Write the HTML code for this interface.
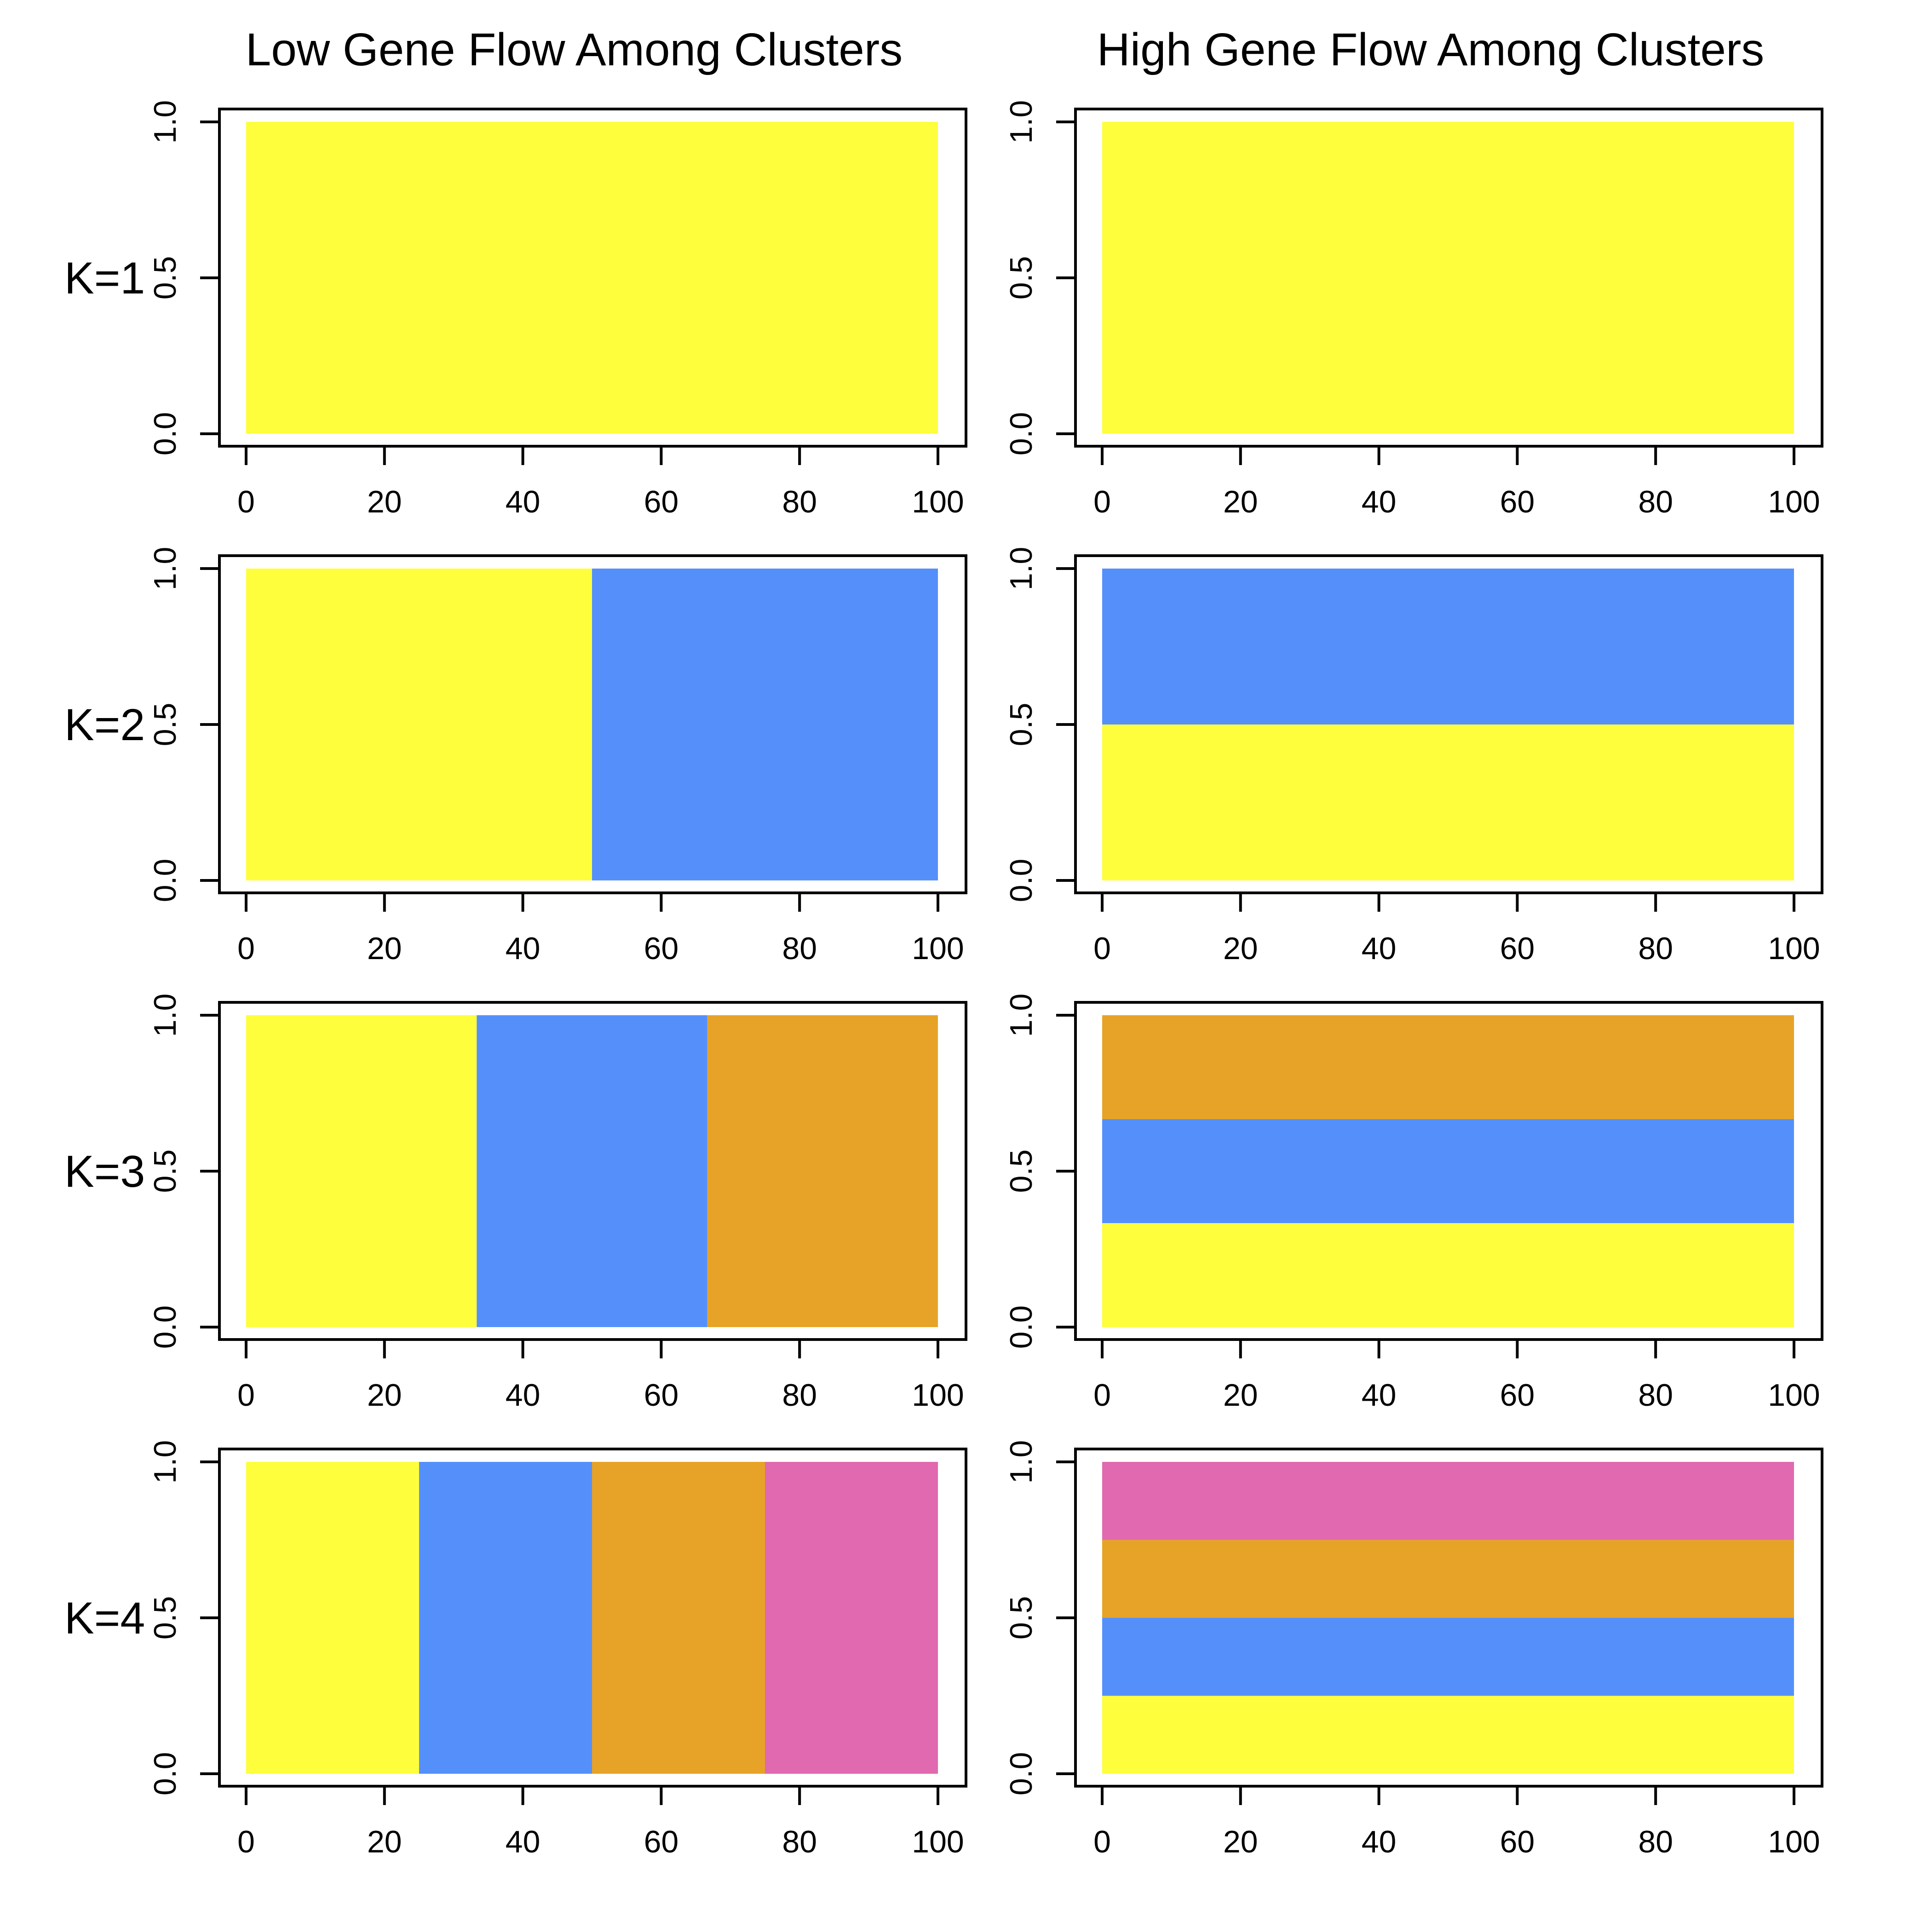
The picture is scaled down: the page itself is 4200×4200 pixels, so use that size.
<!DOCTYPE html>
<html><head><meta charset="utf-8"><style>html,body{margin:0;padding:0;background:#fff}svg{display:block}</style></head>
<body>
<svg width="4200" height="4200" viewBox="0 0 4200 4200" xmlns="http://www.w3.org/2000/svg" font-family="Liberation Sans, Arial, sans-serif">
<defs>
<g id="ax" stroke="#000" stroke-width="6" fill="none">
<rect x="0" y="0" width="1623" height="733"/>
<path d="M-42 706H0M-42 367H0M-42 28H0M58 733v41M358.8 733v41M659.6 733v41M960.4 733v41M1261.2 733v41M1562 733v41"/>
</g>
</defs>
<text x="1248" y="142" font-size="100" text-anchor="middle">Low Gene Flow Among Clusters</text>
<text x="3110" y="142" font-size="100" text-anchor="middle">High Gene Flow Among Clusters</text>

<!-- Row 1 -->
<g transform="translate(477,237)">
<rect x="58" y="28" width="1504" height="678" fill="#FEFE3C"/>
<use href="#ax"/>
<g font-size="68" text-anchor="middle"><text transform="translate(-95,706) rotate(-90)">0.0</text><text transform="translate(-95,367) rotate(-90)">0.5</text><text transform="translate(-95,28) rotate(-90)">1.0</text>
<text x="58" y="877">0</text><text x="358.8" y="877">20</text><text x="659.6" y="877">40</text><text x="960.4" y="877">60</text><text x="1261.2" y="877">80</text><text x="1562" y="877">100</text></g>
<text x="-337" y="401" font-size="97">K=1</text>
</g>
<g transform="translate(2338,237)">
<rect x="58" y="28" width="1504" height="678" fill="#FEFE3C"/>
<use href="#ax"/>
<g font-size="68" text-anchor="middle"><text transform="translate(-95,706) rotate(-90)">0.0</text><text transform="translate(-95,367) rotate(-90)">0.5</text><text transform="translate(-95,28) rotate(-90)">1.0</text>
<text x="58" y="877">0</text><text x="358.8" y="877">20</text><text x="659.6" y="877">40</text><text x="960.4" y="877">60</text><text x="1261.2" y="877">80</text><text x="1562" y="877">100</text></g>
</g>

<!-- Row 2 -->
<g transform="translate(477,1208)">
<rect x="58" y="28" width="752" height="678" fill="#FEFE3C"/>
<rect x="810" y="28" width="752" height="678" fill="#5590FA"/>
<use href="#ax"/>
<g font-size="68" text-anchor="middle"><text transform="translate(-95,706) rotate(-90)">0.0</text><text transform="translate(-95,367) rotate(-90)">0.5</text><text transform="translate(-95,28) rotate(-90)">1.0</text>
<text x="58" y="877">0</text><text x="358.8" y="877">20</text><text x="659.6" y="877">40</text><text x="960.4" y="877">60</text><text x="1261.2" y="877">80</text><text x="1562" y="877">100</text></g>
<text x="-337" y="401" font-size="97">K=2</text>
</g>
<g transform="translate(2338,1208)">
<rect x="58" y="28" width="1504" height="339" fill="#5590FA"/>
<rect x="58" y="367" width="1504" height="339" fill="#FEFE3C"/>
<use href="#ax"/>
<g font-size="68" text-anchor="middle"><text transform="translate(-95,706) rotate(-90)">0.0</text><text transform="translate(-95,367) rotate(-90)">0.5</text><text transform="translate(-95,28) rotate(-90)">1.0</text>
<text x="58" y="877">0</text><text x="358.8" y="877">20</text><text x="659.6" y="877">40</text><text x="960.4" y="877">60</text><text x="1261.2" y="877">80</text><text x="1562" y="877">100</text></g>
</g>

<!-- Row 3 -->
<g transform="translate(477,2179)">
<rect x="58" y="28" width="501.3" height="678" fill="#FEFE3C"/>
<rect x="559.3" y="28" width="501.4" height="678" fill="#5590FA"/>
<rect x="1060.7" y="28" width="501.3" height="678" fill="#E7A327"/>
<use href="#ax"/>
<g font-size="68" text-anchor="middle"><text transform="translate(-95,706) rotate(-90)">0.0</text><text transform="translate(-95,367) rotate(-90)">0.5</text><text transform="translate(-95,28) rotate(-90)">1.0</text>
<text x="58" y="877">0</text><text x="358.8" y="877">20</text><text x="659.6" y="877">40</text><text x="960.4" y="877">60</text><text x="1261.2" y="877">80</text><text x="1562" y="877">100</text></g>
<text x="-337" y="401" font-size="97">K=3</text>
</g>
<g transform="translate(2338,2179)">
<rect x="58" y="28" width="1504" height="226" fill="#E7A327"/>
<rect x="58" y="254" width="1504" height="226" fill="#5590FA"/>
<rect x="58" y="480" width="1504" height="226" fill="#FEFE3C"/>
<use href="#ax"/>
<g font-size="68" text-anchor="middle"><text transform="translate(-95,706) rotate(-90)">0.0</text><text transform="translate(-95,367) rotate(-90)">0.5</text><text transform="translate(-95,28) rotate(-90)">1.0</text>
<text x="58" y="877">0</text><text x="358.8" y="877">20</text><text x="659.6" y="877">40</text><text x="960.4" y="877">60</text><text x="1261.2" y="877">80</text><text x="1562" y="877">100</text></g>
</g>

<!-- Row 4 -->
<g transform="translate(477,3150)">
<rect x="58" y="28" width="376" height="678" fill="#FEFE3C"/>
<rect x="434" y="28" width="376" height="678" fill="#5590FA"/>
<rect x="810" y="28" width="376" height="678" fill="#E7A327"/>
<rect x="1186" y="28" width="376" height="678" fill="#E069AF"/>
<use href="#ax"/>
<g font-size="68" text-anchor="middle"><text transform="translate(-95,706) rotate(-90)">0.0</text><text transform="translate(-95,367) rotate(-90)">0.5</text><text transform="translate(-95,28) rotate(-90)">1.0</text>
<text x="58" y="877">0</text><text x="358.8" y="877">20</text><text x="659.6" y="877">40</text><text x="960.4" y="877">60</text><text x="1261.2" y="877">80</text><text x="1562" y="877">100</text></g>
<text x="-337" y="401" font-size="97">K=4</text>
</g>
<g transform="translate(2338,3150)">
<rect x="58" y="28" width="1504" height="169.5" fill="#E069AF"/>
<rect x="58" y="197.5" width="1504" height="169.5" fill="#E7A327"/>
<rect x="58" y="367" width="1504" height="169.5" fill="#5590FA"/>
<rect x="58" y="536.5" width="1504" height="169.5" fill="#FEFE3C"/>
<use href="#ax"/>
<g font-size="68" text-anchor="middle"><text transform="translate(-95,706) rotate(-90)">0.0</text><text transform="translate(-95,367) rotate(-90)">0.5</text><text transform="translate(-95,28) rotate(-90)">1.0</text>
<text x="58" y="877">0</text><text x="358.8" y="877">20</text><text x="659.6" y="877">40</text><text x="960.4" y="877">60</text><text x="1261.2" y="877">80</text><text x="1562" y="877">100</text></g>
</g>
</svg>
</body></html>
